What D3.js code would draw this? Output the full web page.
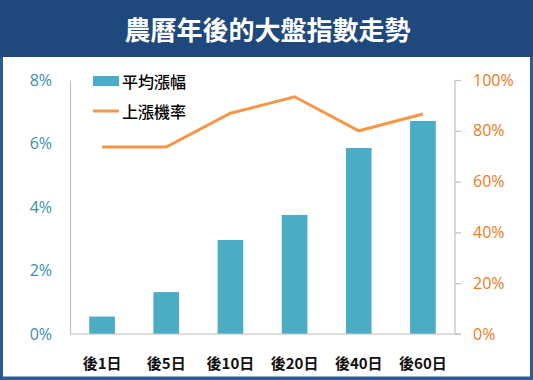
<!DOCTYPE html>
<html><head><meta charset="utf-8">
<script src="https://cdn.jsdelivr.net/npm/d3@7/dist/d3.min.js"></script>
<style>body{margin:0;background:#fff}svg{display:block}</style>
</head><body>
<script>
const categories = ["後1日","後5日","後10日","後20日","後40日","後60日"];
const avgGain = [0.55, 1.32, 2.96, 3.75, 5.86, 6.71];      // 平均漲幅 (%)
const upProb = [73.6, 73.6, 86.9, 93.4, 80.0, 86.6];      // 上漲機率 (%)
const leftTicks = [0, 2, 4, 6, 8];
const rightTicks = [0, 20, 40, 60, 80, 100];
const title = "農曆年後的大盤指數走勢";
const legendLabels = ["平均漲幅", "上漲機率"];

const W = 533, H = 380;
const font = "'Noto Sans CJK TC','Noto Sans CJK SC',sans-serif";
const svg = d3.select("body").append("svg").attr("width", W).attr("height", H);

// frame
svg.append("rect").attr("x",0).attr("y",0).attr("width",W).attr("height",H).attr("fill","#2c5b94");
svg.append("rect").attr("x",0).attr("y",0).attr("width",W).attr("height",57).attr("fill","#1f487c");
svg.append("rect").attr("x",3).attr("y",57).attr("width",W-6).attr("height",H-57-3.5).attr("fill","#fff");

svg.append("text").attr("x",W/2+1).attr("y",28).attr("text-anchor","middle").attr("dominant-baseline","central")
  .attr("fill","#fff").attr("font-family",font).attr("font-weight","bold").attr("font-size",26).text(title);

const x0 = 70, x1 = 455, yTop = 80, yBot = 334;
const x = d3.scaleBand().domain(categories).range([x0, x1]).paddingInner(0.6).paddingOuter(0.3);
const yL = d3.scaleLinear().domain([0, 8]).range([yBot, yTop]);
const yR = d3.scaleLinear().domain([0, 100]).range([yBot, yTop]);

// bars
svg.append("g").selectAll("rect").data(avgGain).join("rect")
  .attr("x",(d,i)=>x(categories[i])).attr("width",x.bandwidth())
  .attr("y",d=>yL(d)).attr("height",d=>yBot-yL(d)).attr("fill","#4bacc6");

// axes
const axisColor = "#bfbfbf";
const gL = svg.append("g").attr("transform",`translate(${x0},0)`)
  .call(d3.axisLeft(yL).tickValues(leftTicks).tickSize(0).tickPadding(18).tickFormat(d=>d+"%"));
gL.select(".domain").attr("stroke",axisColor).attr("stroke-width",1.2);
gL.selectAll("text").attr("fill","#3a8fab").attr("font-family","'Open Sans',sans-serif").attr("font-size",16).attr("font-weight",500);

const gR = svg.append("g").attr("transform",`translate(${x1},0)`)
  .call(d3.axisRight(yR).tickValues(rightTicks).tickSize(6).tickPadding(12).tickFormat(d=>d+"%"));
gR.select(".domain").attr("stroke",axisColor).attr("stroke-width",1.2).attr("d",`M0,${yTop}V${yBot}`);
gR.selectAll("line").attr("stroke",axisColor).attr("stroke-width",1.2);
gR.selectAll("text").attr("fill","#ec7a22").attr("font-family","'Open Sans',sans-serif").attr("font-size",16).attr("font-weight",500);

// x baseline
svg.append("line").attr("x1",x0).attr("x2",x1+6).attr("y1",yBot).attr("y2",yBot).attr("stroke",axisColor).attr("stroke-width",1.2);

// x labels
svg.append("g").selectAll("text").data(categories).join("text")
  .attr("x",d=>x(d)+x.bandwidth()/2).attr("y",362).attr("text-anchor","middle").attr("dominant-baseline","central")
  .attr("font-family",font).attr("font-weight","bold").attr("font-size",15).attr("fill","#111").text(d=>d);

// line
const line = d3.line().x((d,i)=>x(categories[i])+x.bandwidth()/2).y(d=>yR(d));
svg.append("path").datum(upProb).attr("d",line).attr("fill","none").attr("stroke","#f79646").attr("stroke-width",3);

// legend
svg.append("rect").attr("x",93).attr("y",76).attr("width",26).attr("height",10).attr("fill","#4bacc6");
svg.append("line").attr("x1",93).attr("x2",119).attr("y1",111).attr("y2",111).attr("stroke","#f79646").attr("stroke-width",3);
svg.append("g").selectAll("text").data(legendLabels).join("text")
  .attr("x",122).attr("y",(d,i)=>81+i*30).attr("dominant-baseline","central")
  .attr("font-family",font).attr("font-size",16).attr("font-weight",500).attr("fill","#000").text(d=>d);
</script>
</body></html>
